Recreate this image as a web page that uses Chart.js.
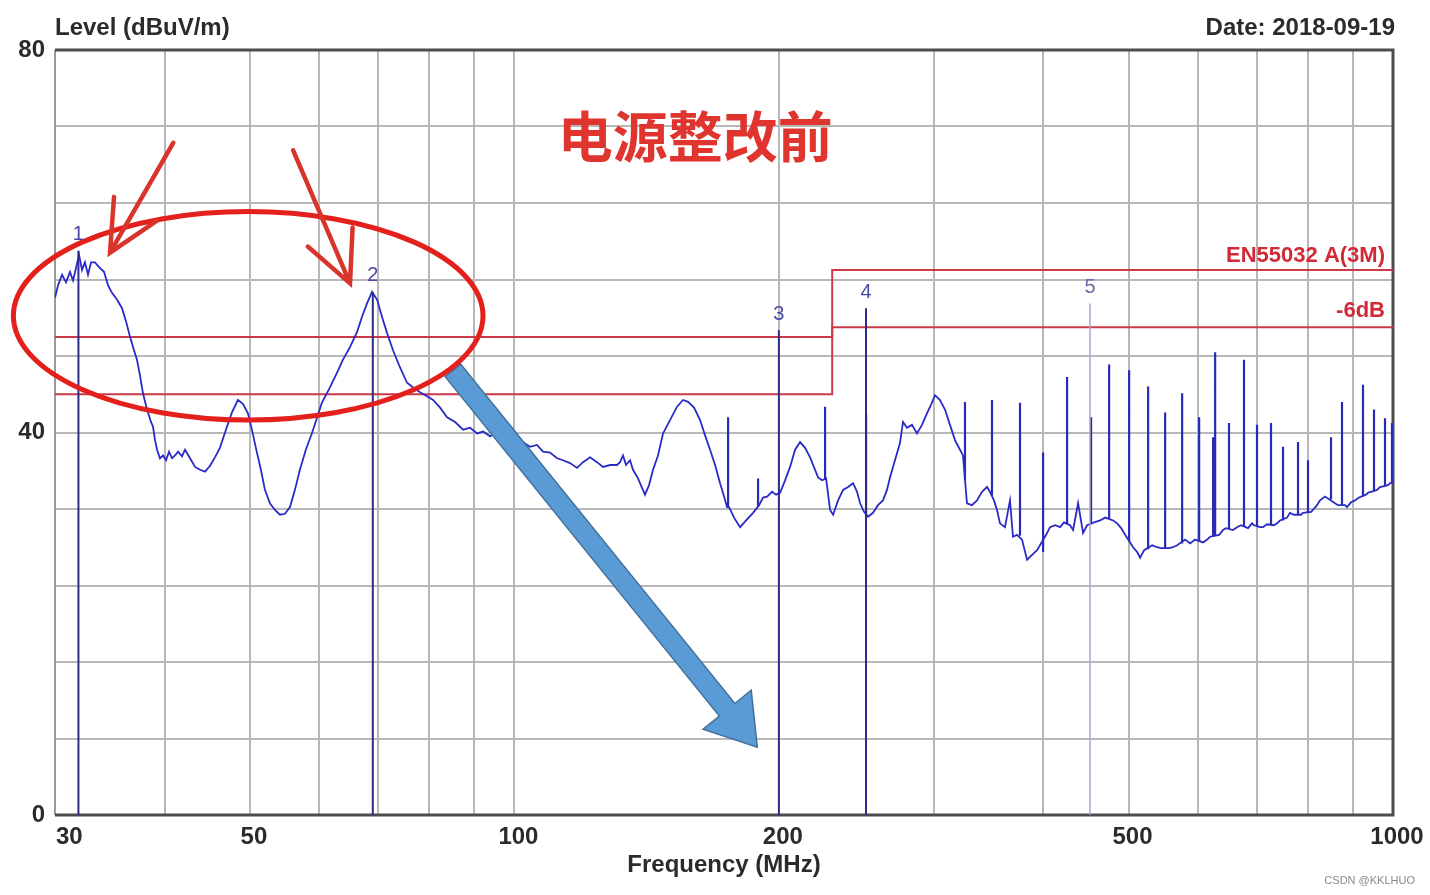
<!DOCTYPE html>
<html>
<head>
<meta charset="utf-8">
<title>电源整改前</title>
<script src="https://cdn.jsdelivr.net/npm/chart.js@4.4.1/dist/chart.umd.min.js"></script>
<style>
  html, body { margin: 0; padding: 0; background: #fff; }
  canvas { display: block; }
</style>
</head>
<body>
<canvas id="emiChart" width="1430" height="895"></canvas>
<script>
const traceFreq = [
  30.00, 30.24, 30.56, 30.88, 31.20, 31.45, 31.70, 31.95, 32.20, 32.45, 32.71, 32.97, 33.31, 33.76, 34.11, 34.47,
  34.83, 35.29, 35.76, 36.14, 36.52, 36.90, 37.19, 37.48, 37.78, 38.18, 38.58, 38.79, 38.99, 39.20, 39.50, 39.82,
  40.13, 40.45, 40.77, 41.09, 41.42, 41.85, 42.18, 42.74, 43.30, 43.88, 44.45, 45.02, 45.62, 46.22, 47.08, 47.70,
  48.45, 49.09, 49.74, 50.26, 50.93, 51.46, 52.01, 52.69, 53.39, 54.09, 54.81, 55.53, 56.26, 57.00, 57.89, 58.81,
  59.59, 60.37, 61.65, 62.79, 63.79, 64.97, 66.20, 67.08, 67.96, 68.86, 69.77, 70.68, 71.62, 72.75, 74.10, 75.48,
  76.68, 78.10, 79.54, 80.80, 82.30, 83.82, 85.61, 87.42, 89.04, 90.69, 92.13, 93.83, 95.55, 97.57, 99.64, 101.48,
  104.18, 106.10, 107.79, 109.78, 111.82, 113.59, 115.69, 117.84, 119.70, 121.92, 124.18, 126.14, 128.48, 130.86, 131.90, 132.93,
  133.98, 135.39, 136.46, 138.26, 139.72, 140.82, 142.31, 143.81, 145.70, 147.62, 150.36, 153.16, 155.59, 157.64, 160.14, 162.68,
  164.82, 167.00, 169.20, 171.43, 173.24, 174.61, 175.52, 177.83, 180.66, 183.53, 186.92, 189.88, 191.88, 193.90, 196.46, 198.53,
  200.62, 203.27, 205.95, 208.67, 211.43, 214.21, 217.03, 219.89, 221.63, 223.97, 226.33, 228.71, 230.52, 233.56, 236.64, 239.77,
  242.93, 245.48, 247.42, 250.02, 252.67, 255.93, 259.31, 262.73, 265.50, 267.59, 271.12, 274.70, 276.87, 279.79, 283.48, 287.21,
  291.00, 294.84, 297.95, 301.09, 305.06, 309.08, 313.16, 317.29, 321.48, 324.01, 327.42, 331.75, 336.12, 340.56, 345.04, 347.77,
  351.44, 354.21, 357.00, 361.71, 366.49, 369.37, 373.28, 378.20, 383.28, 388.34, 393.46, 402.85, 407.10, 412.47, 417.91, 422.32,
  429.00, 432.39, 438.11, 443.87, 448.56, 456.87, 464.16, 470.28, 480.24, 485.31, 490.42, 495.59, 506.07, 511.42, 515.46, 520.89,
  531.93, 538.94, 544.61, 556.16, 562.04, 567.93, 579.97, 587.61, 595.40, 607.99, 614.39, 619.23, 634.03, 640.71, 645.56, 657.53,
  664.45, 671.44, 683.88, 691.06, 694.71, 705.72, 711.29, 718.79, 732.10, 737.88, 743.70, 757.46, 763.44, 771.50, 785.79, 789.93,
  806.66, 810.89, 819.44, 825.91, 836.80, 858.97, 865.77, 881.79, 886.42, 895.78, 905.21, 914.74, 931.71, 936.59, 943.98, 958.93,
  966.50, 987.00, 992.20, 1000.00
];
const traceLevel = [
  54.1, 55.4, 56.5, 55.7, 56.8, 55.9, 57.2, 58.6, 57.0, 57.8, 56.5, 57.8, 57.8, 57.2, 56.8, 55.4,
  54.6, 53.9, 53.0, 51.6, 50.0, 48.6, 47.6, 46.0, 44.1, 42.4, 41.1, 40.6, 39.2, 38.2, 37.3, 37.6,
  37.1, 38.0, 37.3, 37.6, 38.0, 37.5, 38.2, 37.3, 36.4, 36.1, 35.9, 36.5, 37.4, 38.4, 40.6, 42.1,
  43.4, 43.0, 42.0, 40.3, 37.9, 36.1, 34.0, 32.6, 31.9, 31.4, 31.5, 32.2, 34.0, 36.1, 38.2, 39.9,
  41.5, 43.1, 44.7, 46.2, 47.6, 48.9, 50.5, 52.1, 53.5, 54.7, 53.9, 52.1, 50.4, 48.6, 46.8, 45.2,
  44.7, 44.2, 43.8, 43.4, 42.6, 41.6, 41.1, 40.3, 40.5, 39.9, 40.1, 39.6, 40.1, 39.4, 40.3, 39.2,
  38.5, 38.7, 38.0, 37.9, 37.3, 37.1, 36.8, 36.3, 36.9, 37.4, 36.9, 36.4, 36.6, 36.6, 36.9, 37.6,
  36.6, 37.1, 36.1, 35.2, 34.2, 33.5, 34.5, 36.1, 37.6, 39.9, 41.3, 42.7, 43.4, 43.2, 42.6, 41.3,
  39.7, 38.2, 36.6, 34.7, 33.3, 32.2, 32.2, 31.1, 30.1, 30.8, 31.6, 32.4, 33.2, 33.3, 33.8, 33.5,
  33.7, 35.0, 36.4, 38.2, 39.0, 38.4, 37.4, 36.1, 35.3, 35.0, 35.2, 31.9, 31.4, 32.9, 34.0, 34.3,
  34.7, 33.8, 32.6, 31.7, 31.2, 31.6, 32.4, 32.9, 34.0, 35.3, 37.1, 38.9, 41.1, 40.5, 40.8, 39.9,
  40.8, 42.0, 42.9, 43.9, 43.4, 42.4, 40.8, 39.2, 38.2, 37.6, 32.6, 32.4, 32.9, 33.8, 34.3, 33.8,
  32.9, 31.9, 30.5, 30.1, 32.9, 29.1, 29.3, 28.8, 26.7, 27.2, 27.7, 29.3, 30.1, 30.3, 30.1, 30.6,
  30.3, 29.8, 32.6, 29.5, 30.3, 30.6, 30.8, 31.1, 30.8, 30.5, 30.0, 29.3, 28.0, 27.5, 26.9, 27.7,
  28.2, 28.0, 27.9, 27.9, 28.0, 28.2, 28.8, 28.4, 28.8, 28.5, 28.8, 29.1, 29.3, 29.8, 30.0, 29.8,
  30.1, 30.3, 30.0, 30.5, 30.3, 30.1, 30.1, 30.4, 30.3, 30.5, 30.8, 31.1, 31.6, 31.4, 31.4, 31.6,
  31.7, 31.9, 32.4, 32.9, 33.3, 32.6, 32.4, 32.4, 32.2, 32.7, 32.9, 33.2, 33.5, 33.7, 33.8, 34.0,
  34.3, 34.5, 34.7, 34.8
];

// narrow spikes: frequency, floor and top
const spikeFreq = [175.07, 189.38, 225.74, 251.34, 325.72, 349.60, 376.22, 399.70, 425.64, 453.29, 475.24,
  500.81, 526.38, 550.36, 575.43, 601.65, 624.13, 627.42, 650.66, 676.74, 700.20, 726.37, 749.57, 779.64,
  800.33, 850.07, 874.89, 924.38, 951.43, 979.25, 997.40];
const spikeBase = [32.2, 32.2, 35.1, 31.4, 35.0, 33.4, 29.2, 27.5, 30.4, 30.4, 31.0,
  28.6, 27.8, 27.9, 28.4, 28.6, 29.1, 29.2, 29.9, 30.2, 30.2, 30.3, 30.8, 31.4,
  31.6, 33.0, 32.4, 33.3, 33.9, 34.4, 34.7];
const spikePeak = [41.6, 35.2, 42.7, 42.0, 43.2, 43.4, 43.1, 37.9, 45.8, 41.6, 47.1,
  46.5, 44.8, 42.1, 44.1, 41.6, 39.5, 48.4, 41.0, 47.6, 40.8, 41.0, 38.5, 39.0,
  37.1, 39.5, 43.2, 45.0, 42.4, 41.5, 41.0];

// markers 1..5
const markerNames = ['1', '2', '3', '4', '5'];
const markerFreq = [31.9, 69.0, 200.0, 251.3, 452.0];
const markerLevel = [59.0, 54.7, 50.7, 53.0, 53.5];

// EN55032 A (3m) limit and -6dB margin
const limitFreq = [30, 230, 230, 1000];
const limitLevel = [50, 50, 57, 57];
const marginLevel = [44, 44, 51, 51];

// axes
const xGridValues = [30, 40, 50, 60, 70, 80, 90, 100, 200, 300, 400, 500, 600, 700, 800, 900, 1000];
const xTickLabels = [30, 50, 100, 200, 500, 1000];
const yTickLabels = [0, 40, 80];

// hand-drawn annotations, placed in chart units
const ellipseBox = { fLeft: 26.9, fRight: 92.1, lTop: 63.1, lBottom: 41.3 };
const redArrows = [
  { from: [40.9, 70.3], to: [34.65, 58.8] },
  { from: [56.0, 69.5], to: [65.0, 55.6] }
];
const blueArrow = { from: [85.1, 46.5], to: [189.0, 7.1] };
const titleAt = [160.6, 71.0];

const FONT = '"Liberation Sans", Arial, sans-serif';
const TEXT = '#2b2b2b';

function pairs(fs, ls) {
  return fs.map((f, i) => ({ x: f, y: ls[i] }));
}

function vlines(fs, lo, hi) {
  const out = [];
  fs.forEach((f, i) => {
    out.push({ x: f, y: Array.isArray(lo) ? lo[i] : lo });
    out.push({ x: f, y: hi[i] });
    out.push({ x: f, y: null });
  });
  return out;
}

const decor = {
  id: 'decor',
  beforeDatasetsDraw(chart) {
    const { ctx, chartArea: a } = chart;
    ctx.save();
    ctx.lineWidth = 2;
    ctx.strokeStyle = '#9a9a9a';
    ctx.beginPath();
    ctx.moveTo(a.left, a.top);
    ctx.lineTo(a.left, a.bottom);
    ctx.stroke();
    ctx.lineWidth = 3;
    ctx.strokeStyle = '#4c4c4c';
    ctx.beginPath();
    ctx.moveTo(a.left, a.top);
    ctx.lineTo(a.right, a.top);
    ctx.lineTo(a.right, a.bottom);
    ctx.lineTo(a.left, a.bottom);
    ctx.stroke();
    ctx.restore();
  },
  afterDatasetsDraw(chart) {
    const { ctx } = chart;
    const xs = chart.scales.x, ys = chart.scales.y;
    const P = (f, l) => [xs.getPixelForValue(f), ys.getPixelForValue(l)];

    ctx.save();
    // blue arrow
    const [tx, ty] = P(blueArrow.from[0], blueArrow.from[1]);
    const [hx, hy] = P(blueArrow.to[0], blueArrow.to[1]);
    const len = Math.hypot(hx - tx, hy - ty);
    const ux = (hx - tx) / len, uy = (hy - ty) / len;
    const nx = -uy, ny = ux;
    const sw = 10, hw = 31, hl = 48;
    const bx = hx - ux * hl, by = hy - uy * hl;
    ctx.beginPath();
    ctx.moveTo(tx + nx * sw, ty + ny * sw);
    ctx.lineTo(bx + nx * sw, by + ny * sw);
    ctx.lineTo(bx + nx * hw, by + ny * hw);
    ctx.lineTo(hx, hy);
    ctx.lineTo(bx - nx * hw, by - ny * hw);
    ctx.lineTo(bx - nx * sw, by - ny * sw);
    ctx.lineTo(tx - nx * sw, ty - ny * sw);
    ctx.closePath();
    ctx.fillStyle = '#5b9bd5';
    ctx.fill();
    ctx.lineWidth = 1.5;
    ctx.strokeStyle = '#41719c';
    ctx.stroke();

    // red ellipse
    const [ex1, ey1] = P(ellipseBox.fLeft, ellipseBox.lTop);
    const [ex2, ey2] = P(ellipseBox.fRight, ellipseBox.lBottom);
    ctx.beginPath();
    ctx.ellipse((ex1 + ex2) / 2, (ey1 + ey2) / 2, (ex2 - ex1) / 2, (ey2 - ey1) / 2, 0, 0, Math.PI * 2);
    ctx.lineWidth = 5;
    ctx.strokeStyle = '#e3201c';
    ctx.stroke();

    // red arrows
    ctx.lineWidth = 4.5;
    ctx.strokeStyle = '#d9342b';
    ctx.lineCap = 'round';
    redArrows.forEach(ar => {
      const [x0, y0] = P(ar.from[0], ar.from[1]);
      const [x1, y1] = P(ar.to[0], ar.to[1]);
      const ang = Math.atan2(y1 - y0, x1 - x0) + Math.PI;
      ctx.beginPath();
      ctx.moveTo(x0, y0);
      ctx.lineTo(x1, y1);
      ctx.moveTo(x1 + Math.cos(ang - 0.45) * 56, y1 + Math.sin(ang - 0.45) * 56);
      ctx.lineTo(x1, y1);
      ctx.lineTo(x1 + Math.cos(ang + 0.45) * 56, y1 + Math.sin(ang + 0.45) * 56);
      ctx.stroke();
    });
    ctx.restore();
  },
  afterDraw(chart) {
    const { ctx, chartArea: a } = chart;
    const xs = chart.scales.x, ys = chart.scales.y;
    ctx.save();
    ctx.textBaseline = 'middle';

    ctx.fillStyle = TEXT;
    ctx.font = 'bold 24px ' + FONT;
    ctx.textAlign = 'left';
    ctx.fillText('Level (dBuV/m)', a.left, 28);
    ctx.textAlign = 'right';
    ctx.fillText('Date: 2018-09-19', a.right + 2, 28);

    // x tick labels
    xTickLabels.forEach((v, i) => {
      const px = xs.getPixelForValue(v);
      ctx.textAlign = i === 0 ? 'left' : 'center';
      ctx.fillText(String(v), px + (i === 0 ? 1 : 4), a.bottom + 22);
    });

    // limit labels
    ctx.fillStyle = '#d12a36';
    ctx.font = 'bold 22px ' + FONT;
    ctx.textAlign = 'right';
    ctx.fillText('EN55032 A(3M)', a.right - 8, ys.getPixelForValue(limitLevel[3]) - 14);
    ctx.fillText('-6dB', a.right - 8, ys.getPixelForValue(marginLevel[3]) - 16);

    // marker numbers
    ctx.font = '20px ' + FONT;
    ctx.textAlign = 'center';
    markerNames.forEach((n, i) => {
      ctx.fillStyle = i === 4 ? '#6a6aa8' : '#4848a0';
      ctx.fillText(n, xs.getPixelForValue(markerFreq[i]), ys.getPixelForValue(markerLevel[i]) - 16);
    });

    // heading
    ctx.fillStyle = '#e0352f';
    ctx.font = 'bold 55px "Noto Sans CJK SC", sans-serif';
    ctx.textAlign = 'center';
    ctx.fillText('电源整改前', xs.getPixelForValue(titleAt[0]), ys.getPixelForValue(titleAt[1]));

    ctx.fillStyle = '#8a8a8a';
    ctx.font = '11px ' + FONT;
    ctx.textAlign = 'right';
    ctx.fillText('CSDN @KKLHUO', 1415, 881);
    ctx.restore();
  }
};

const ctx = document.getElementById('emiChart').getContext('2d');
new Chart(ctx, {
  type: 'scatter',
  data: {
    datasets: [
      {
        label: 'Markers',
        data: vlines(markerFreq.slice(0, 4), 0, markerLevel.slice(0, 4)),
        showLine: true, spanGaps: false, pointRadius: 0,
        borderColor: '#2c2c8e', borderWidth: 2
      },
      {
        label: 'Marker 5',
        data: vlines(markerFreq.slice(4), 0, markerLevel.slice(4)),
        showLine: true, spanGaps: false, pointRadius: 0,
        borderColor: '#a6a6d0', borderWidth: 1.5
      },
      {
        label: 'Trace',
        data: pairs(traceFreq, traceLevel),
        showLine: true, pointRadius: 0,
        borderColor: '#2a2ac6', borderWidth: 1.8, tension: 0
      },
      {
        label: 'Spikes',
        data: vlines(spikeFreq, spikeBase, spikePeak),
        showLine: true, spanGaps: false, pointRadius: 0,
        borderColor: '#2a2ab8', borderWidth: 2.2
      },
      {
        label: 'EN55032 A(3M)',
        data: pairs(limitFreq, limitLevel),
        showLine: true, pointRadius: 0,
        borderColor: '#cc3a4a', borderWidth: 2
      },
      {
        label: '-6dB',
        data: pairs(limitFreq, marginLevel),
        showLine: true, pointRadius: 0,
        borderColor: '#cc3a4a', borderWidth: 2
      }
    ]
  },
  options: {
    responsive: false,
    animation: false,
    events: [],
    layout: { padding: { top: 50, right: 37, left: 0, bottom: 0 } },
    plugins: {
      legend: { display: false },
      tooltip: { enabled: false }
    },
    scales: {
      x: {
        type: 'logarithmic',
        min: 30,
        max: 1000,
        afterBuildTicks: (axis) => { axis.ticks = xGridValues.map(v => ({ value: v })); },
        afterFit: (axis) => { axis.height = 80; },
        ticks: { display: false },
        grid: { color: '#b8b8b8', lineWidth: 2, drawTicks: false },
        border: { display: false },
        title: {
          display: true,
          text: 'Frequency (MHz)',
          color: TEXT,
          font: { family: FONT, size: 24, weight: 'bold' },
          padding: { top: 0, bottom: 15 }
        }
      },
      y: {
        min: 0,
        max: 80,
        afterFit: (axis) => { axis.width = 55; },
        ticks: {
          stepSize: 8,
          autoSkip: false,
          padding: 10,
          color: TEXT,
          font: { family: FONT, size: 24, weight: 'bold' },
          callback: (v) => yTickLabels.includes(v) ? String(v) : ''
        },
        grid: { color: '#b8b8b8', lineWidth: 2, drawTicks: false },
        border: { display: false }
      }
    }
  },
  plugins: [decor]
});
</script>
</body>
</html>
